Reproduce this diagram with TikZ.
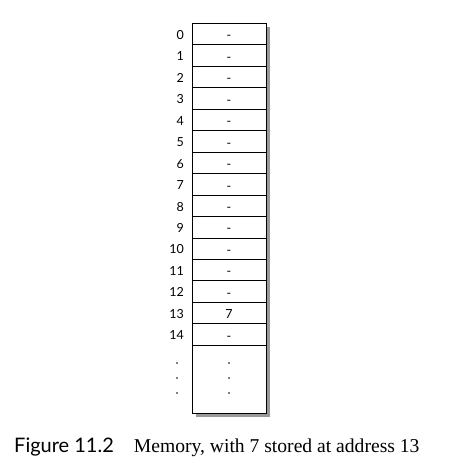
\documentclass[tikz,border=0pt]{standalone}
\usepackage{fontspec}
\setmainfont{Liberation Serif}
\setsansfont{Lato}
\usetikzlibrary{positioning}
\begin{document}
\begin{tikzpicture}[x=1pt,y=-1pt,
  every node/.style={font=\sffamily\fontsize{12.5}{15}\selectfont,inner sep=0pt,
    text height=11pt,text depth=0pt},
  cellbox/.style={draw,fill=white,minimum width=74pt,minimum height=21.47pt,
    text height=12pt},
  addr/.style={anchor=east}]
\useasboundingbox (0,0) rectangle (449,474);
\fill[gray!80] (196,27) rectangle (270,417);
\foreach \i in {0,...,14}{
  \ifnum\i=13
    \node[cellbox] (cell\i) at (229,{33.75+21.47*\i}) {7};
  \else
    \node[cellbox] (cell\i) at (229,{33.75+21.47*\i}) {-};
  \fi
  \node[addr] (addr\i) at (184,{33.75+21.47*\i}) {\i};
}
\node[cellbox,minimum height=68pt,below=-0.4pt of cell14] (rest) {};
\foreach \y in {363,378,393}{
  \fill (229,\y) circle (0.8);
  \fill (177,\y) circle (0.8);
}
\node[anchor=base west,text height=,text depth=] (caption) at (14,452)
  {\fontsize{20}{22}\selectfont\sffamily Figure 11.2\hspace{20pt}\fontsize{19.6}{22}\selectfont\rmfamily Memory, with 7 stored at address 13};
\end{tikzpicture}
\end{document}
